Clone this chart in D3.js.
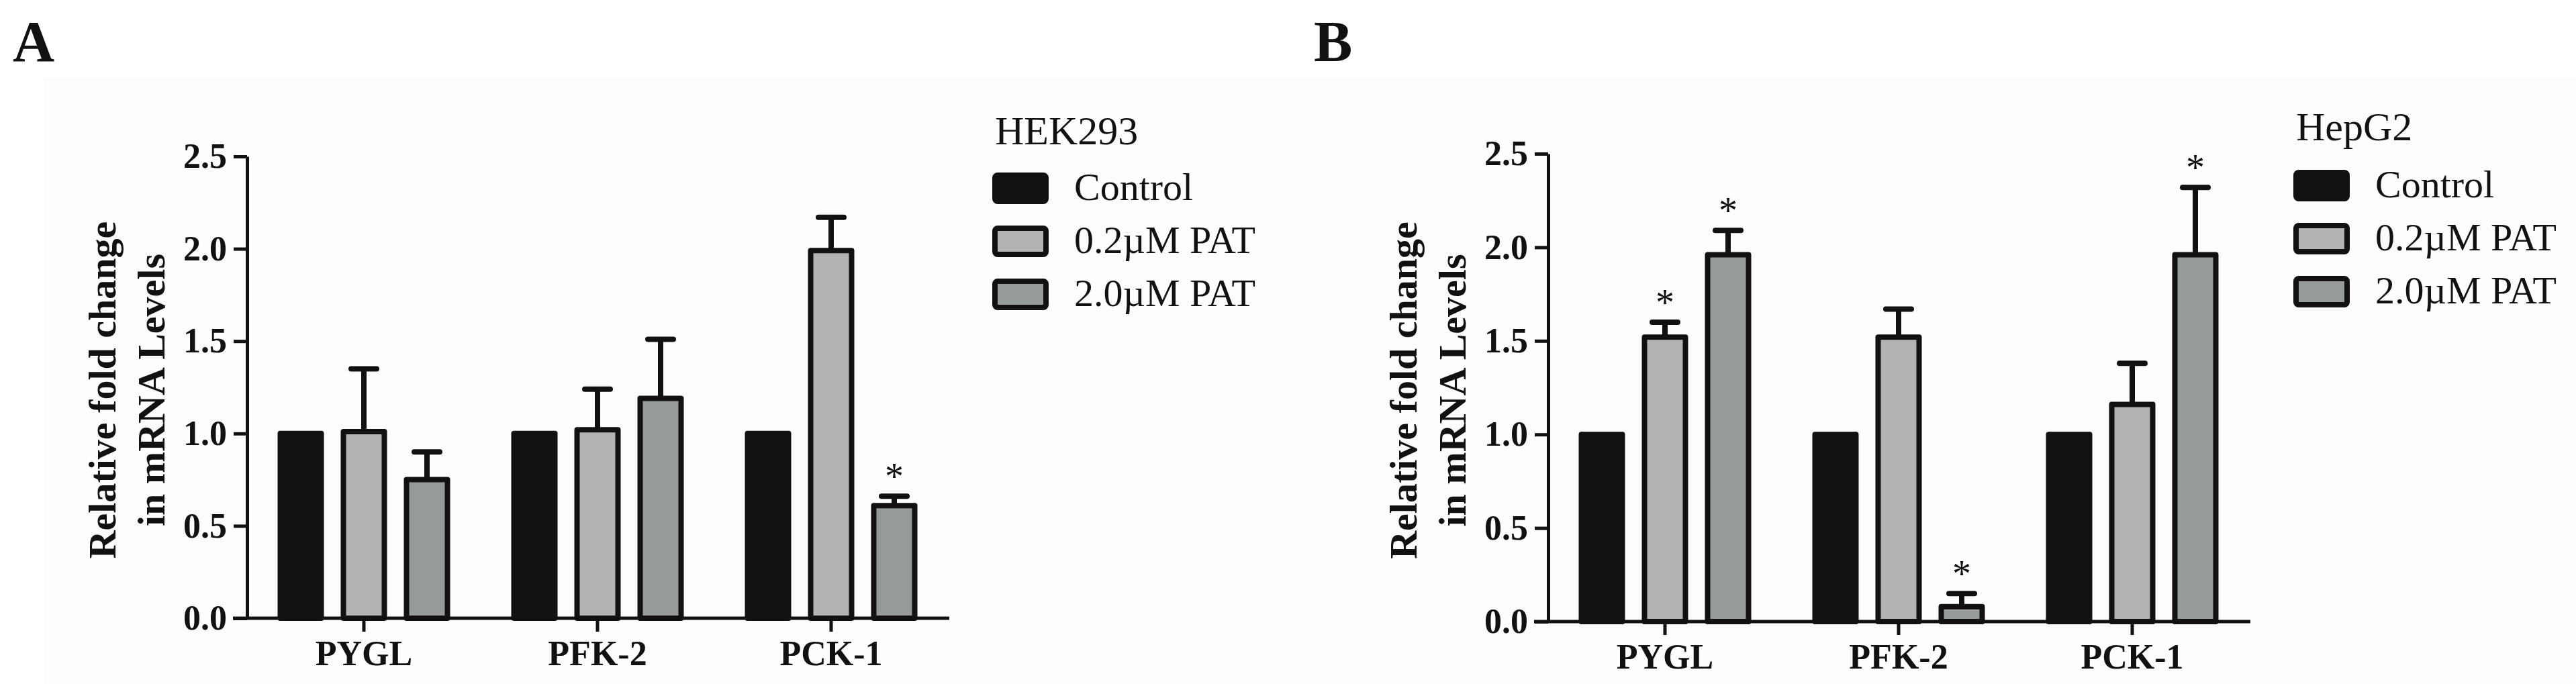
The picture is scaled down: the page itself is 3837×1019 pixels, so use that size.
<!DOCTYPE html>
<html>
<head>
<meta charset="utf-8">
<script src="https://cdn.jsdelivr.net/npm/d3@7"></script>
<style>
  body { margin: 0; background: #fff; }
  svg { display: block; }
  text { font-family: "Liberation Serif", "Times New Roman", serif; fill: #111; }
</style>
</head>
<body>
<svg id="chart" width="3837" height="1019"></svg>
<script>
// data
const genes = ["PYGL", "PFK-2", "PCK-1"];
const treatments = ["Control", "0.2µM PAT", "2.0µM PAT"];
const treatmentColors = ["#111111", "#b3b3b3", "#969a98"];
const yTicks = [0, 0.5, 1.0, 1.5, 2.0, 2.5];

// rows = genes, columns = treatments
const hekMeans = [[1.0, 1.01, 0.75], [1.0, 1.02, 1.19], [1.0, 1.99, 0.61]];
const hekSem   = [[0, 0.34, 0.15],   [0, 0.22, 0.32],   [0, 0.18, 0.05]];
const hekSig   = [[0, 0, 0],         [0, 0, 0],         [0, 0, 1]];

const hepMeans = [[1.0, 1.52, 1.96], [1.0, 1.52, 0.08], [1.0, 1.16, 1.96]];
const hepSem   = [[0, 0.08, 0.13],   [0, 0.15, 0.07],   [0, 0.22, 0.36]];
const hepSig   = [[0, 1, 1],         [0, 0, 1],         [0, 0, 1]];

const panels = [
  { letter: "A", cell: "HEK293", means: hekMeans, sem: hekSem, sig: hekSig,
    axisX: 368, y0: 921, yTop: 233, legendTop: 257, titleY: 215 },
  { letter: "B", cell: "HepG2", means: hepMeans, sem: hepSem, sig: hepSig,
    axisX: 2306, y0: 926, yTop: 229, legendTop: 253, titleY: 209 }
];

const svg = d3.select("#chart");

// faint off-white plot background like the scanned figure
svg.append("rect").attr("x", 65).attr("y", 115)
  .attr("width", 3837 - 65).attr("height", 1019 - 115)
  .attr("fill", "#fdfdfb");

panels.forEach(p => drawPanel(p));

function drawPanel(p) {
  const g = svg.append("g");

  const x = d3.scaleBand().domain(genes).range([p.axisX, p.axisX + 1044]);
  const inner = d3.scalePoint().domain(treatments).range([-94, 94]);
  const y = d3.scaleLinear().domain([0, 2.5]).range([p.y0, p.yTop]);
  const barW = 61;

  // panel letter
  g.append("text")
    .attr("x", p.axisX - 349).attr("y", 91)
    .attr("font-size", 86).attr("font-weight", "bold")
    .text(p.letter);

  const rows = [];
  genes.forEach((gene, i) => {
    treatments.forEach((t, j) => {
      rows.push({
        gene, t, j,
        mean: p.means[i][j], sem: p.sem[i][j], sig: p.sig[i][j],
        cx: x(gene) + x.bandwidth() / 2 + inner(t)
      });
    });
  });

  // error bars (upper only)
  const err = g.selectAll(".err").data(rows.filter(d => d.sem > 0))
    .enter().append("g").attr("class", "err")
    .attr("stroke", "#111").attr("stroke-width", 8);
  err.append("line")
    .attr("x1", d => d.cx).attr("x2", d => d.cx)
    .attr("y1", d => y(d.mean)).attr("y2", d => y(d.mean + d.sem));
  err.append("line")
    .attr("x1", d => d.cx - 19).attr("x2", d => d.cx + 19)
    .attr("y1", d => y(d.mean + d.sem)).attr("y2", d => y(d.mean + d.sem))
    .attr("stroke-linecap", "round");

  // bars
  g.selectAll(".bar").data(rows)
    .enter().append("rect").attr("class", "bar")
    .attr("x", d => d.cx - barW / 2)
    .attr("y", d => y(d.mean))
    .attr("width", barW)
    .attr("height", d => p.y0 - y(d.mean))
    .attr("fill", d => treatmentColors[d.j])
    .attr("stroke", "#111")
    .attr("stroke-width", 8)
    .attr("stroke-linejoin", "round");

  // significance stars
  g.selectAll(".star").data(rows.filter(d => d.sig))
    .enter().append("text").attr("class", "star")
    .attr("x", d => d.cx)
    .attr("y", d => y(d.mean + d.sem) - 10)
    .attr("text-anchor", "middle")
    .attr("font-size", 56)
    .text("*");

  // y axis
  const yAxis = d3.axisLeft(y)
    .tickValues(yTicks)
    .tickFormat(d3.format(".1f"))
    .tickSize(20).tickPadding(10).tickSizeOuter(0);
  const gy = g.append("g").attr("transform", `translate(${p.axisX},0)`).call(yAxis);
  gy.attr("font-size", 52).attr("font-weight", "bold");
  gy.select(".domain").attr("stroke", "#111").attr("stroke-width", 5);
  gy.selectAll(".tick line").attr("stroke", "#111").attr("stroke-width", 5);

  // x axis
  const xAxis = d3.axisBottom(x).tickSize(20).tickPadding(13).tickSizeOuter(0);
  const gx = g.append("g").attr("transform", `translate(0,${p.y0})`).call(xAxis);
  gx.select(".domain").remove();
  gx.attr("font-size", 52).attr("font-weight", "bold");
  gx.selectAll(".tick line").attr("stroke", "#111").attr("stroke-width", 5);
  gx.append("line")
    .attr("x1", p.axisX - 21).attr("x2", p.axisX + 1046)
    .attr("y1", 0).attr("y2", 0)
    .attr("stroke", "#111").attr("stroke-width", 5);

  // y axis title
  const yMid = (p.y0 + p.yTop) / 2 + 4;
  const title = g.append("text")
    .attr("text-anchor", "middle")
    .attr("font-size", 58).attr("font-weight", "bold")
    .attr("transform", `translate(${p.axisX - 196},${yMid}) rotate(-90)`);
  title.append("tspan").attr("x", 0).attr("y", 0).text("Relative fold change");
  title.append("tspan").attr("x", 0).attr("y", 73).text("in mRNA Levels");

  // legend
  const lg = g.append("g").attr("transform", `translate(${p.axisX + 1114},0)`);
  lg.append("text").attr("x", 0).attr("y", p.titleY)
    .attr("font-size", 60).text(p.cell);
  const item = lg.selectAll(".item").data(treatments)
    .enter().append("g").attr("class", "item")
    .attr("transform", (d, i) => `translate(0,${p.legendTop + 4 + i * 79})`);
  item.append("rect")
    .attr("x", 0).attr("y", 0).attr("width", 76).attr("height", 39)
    .attr("rx", 4)
    .attr("fill", (d, i) => treatmentColors[i])
    .attr("stroke", "#111").attr("stroke-width", 8)
    .attr("stroke-linejoin", "round");
  item.append("text")
    .attr("x", 118).attr("y", 37)
    .attr("font-size", 58)
    .text(d => d);
}
</script>
</body>
</html>
